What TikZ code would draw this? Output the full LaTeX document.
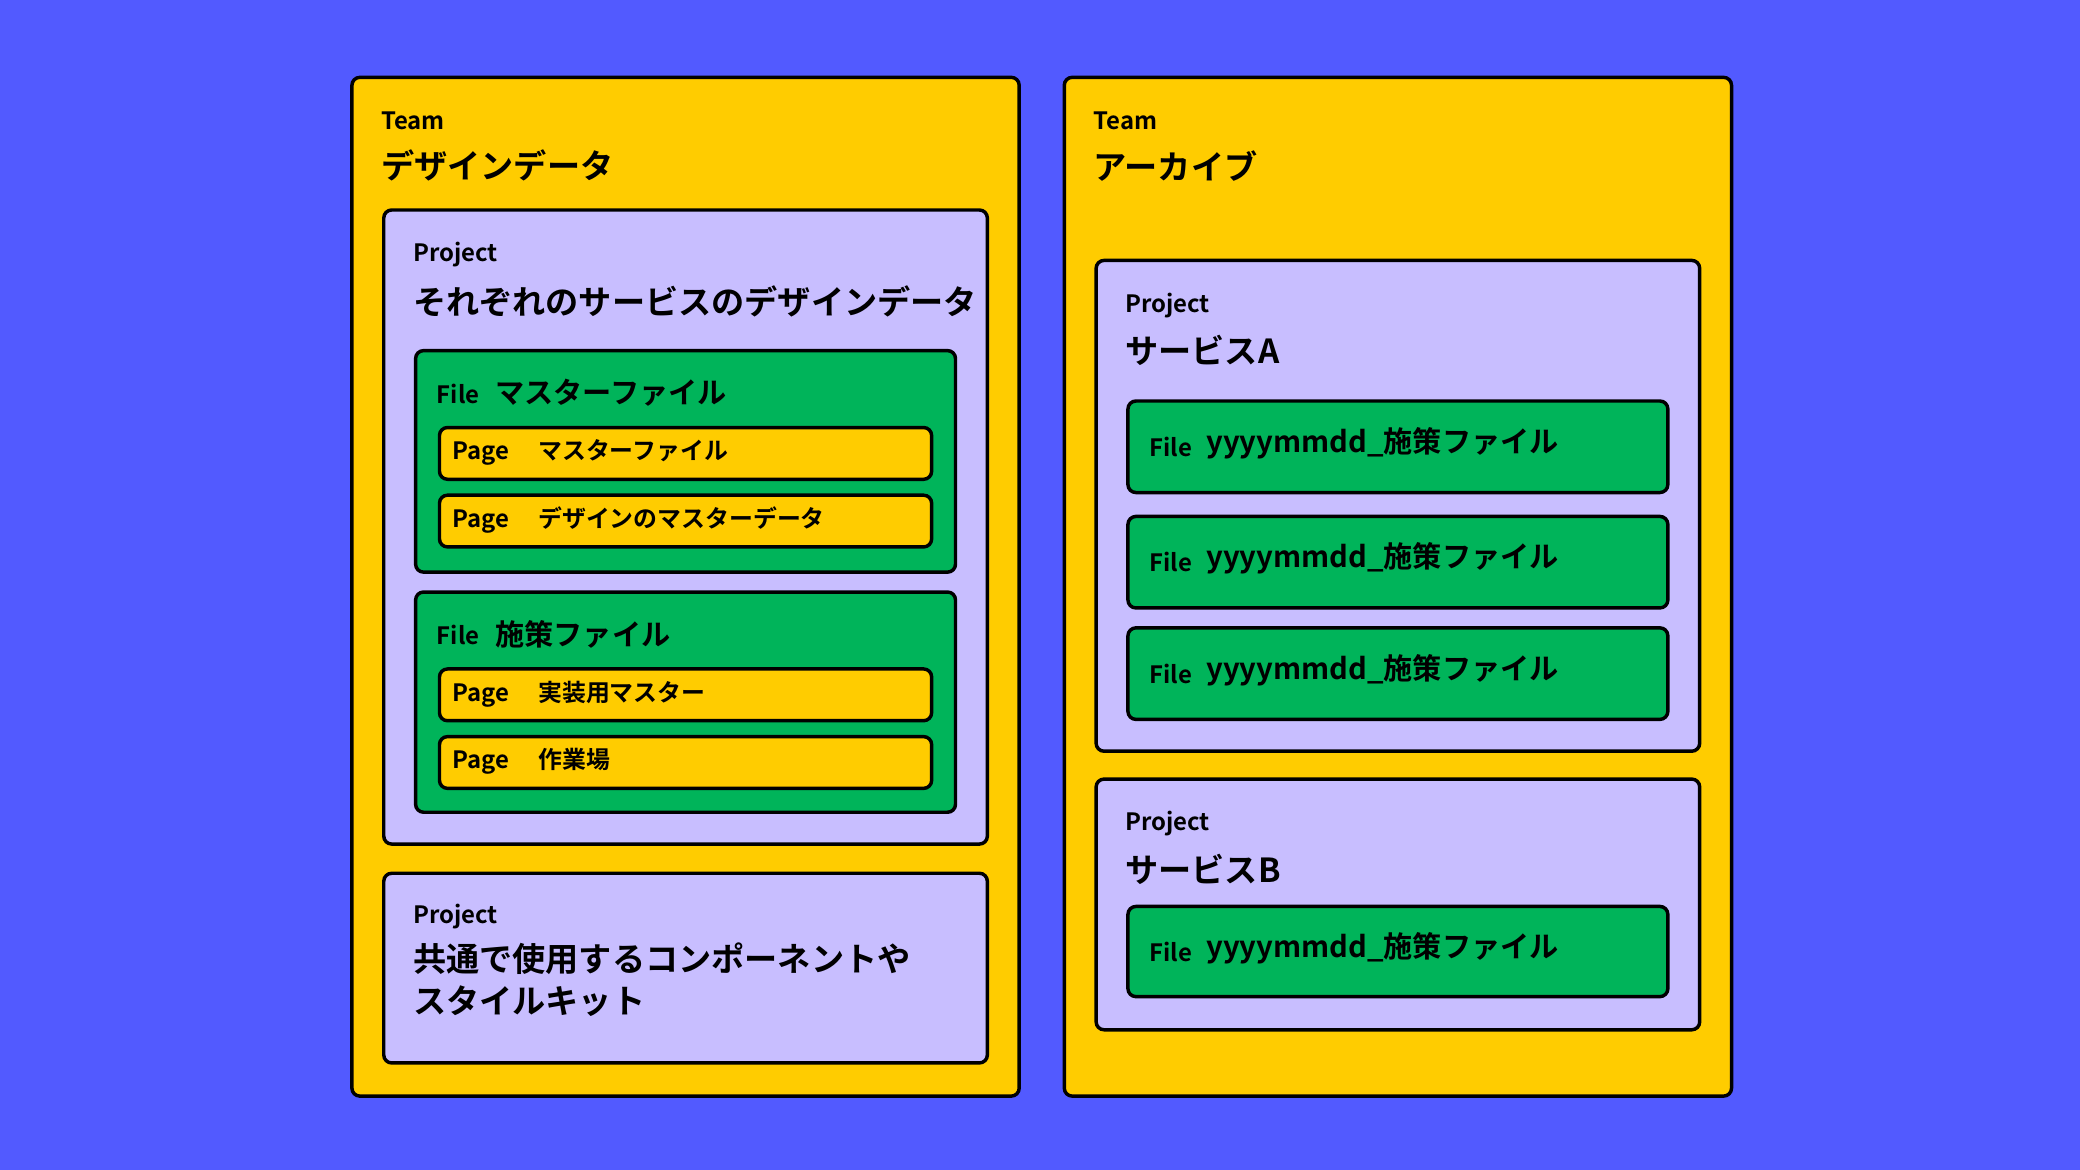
\documentclass[tikz,border=0pt]{standalone}
\usepackage{fontspec}
\setmainfont{Noto Sans CJK JP}[BoldFont={Noto Sans CJK JP Bold}]
\definecolor{bg}{RGB}{82,90,255}
\definecolor{yel}{RGB}{255,204,0}
\definecolor{lav}{RGB}{200,190,255}
\definecolor{grn}{RGB}{0,180,90}
\tikzset{
 box/.style={draw=black,line width=1.3pt,rounded corners=3pt,anchor=north west,inner sep=0},
 lab/.style={anchor=west,inner sep=0,font=\bfseries\fontsize{9}{10}\selectfont},
 ttl/.style={anchor=west,inner sep=0,font=\bfseries\fontsize{12.5}{14}\selectfont,align=left},
 ftl/.style={anchor=west,inner sep=0,font=\bfseries\fontsize{11}{12}\selectfont},
 pg/.style={anchor=west,inner sep=0,font=\bfseries\fontsize{9}{10}\selectfont},
}
\newcommand{\bx}[6]{\node[box,fill=#2,minimum width=#5*0.5pt,minimum height=#6*0.5pt] (#1) at (#3,#4) {};}
\begin{document}
\begin{tikzpicture}[x=0.5pt,y=-0.5pt]
\fill[bg] (0,0) rectangle (1568,882);
\useasboundingbox (0,0) rectangle (1568,882);
% left team
\bx{tl}{yel}{264}{57}{503}{768}
\node[lab] (tlt) at (287,91) {Team};
\node[ttl] (tln) at (287,125) {デザインデータ};
\bx{p1}{lav}{288}{157}{455}{478}
\node[lab] (p1t) at (311,192) {Project};
\node[ttl] (p1n) at (311,227) {それぞれのサービスのデザインデータ};
\bx{f1}{grn}{312}{263}{407}{167}
\node[lab] (f1t) at (329,297) {File};
\node[ftl] (f1n) at (373,296) {マスターファイル};
\bx{pa}{yel}{330}{321}{371}{39}
\node[pg] (pat) at (341,341) {Page\hspace{1.2em}マスターファイル};
\bx{pb}{yel}{330}{372}{371}{39}
\node[pg] (pbt) at (341,392) {Page\hspace{1.2em}デザインのマスターデータ};
\bx{f2}{grn}{312}{445}{407}{166}
\node[lab] (f2t) at (329,479) {File};
\node[ftl] (f2n) at (373,478) {施策ファイル};
\bx{pc}{yel}{330}{503}{371}{39}
\node[pg] (pct) at (341,523) {Page\hspace{1.2em}実装用マスター};
\bx{pd}{yel}{330}{554}{371}{39}
\node[pg] (pdt) at (341,574) {Page\hspace{1.2em}作業場};
\bx{p2}{lav}{288}{657}{455}{143}
\node[lab] (p2t) at (311,691) {Project};
\node[ttl,anchor=north west] (p2n) at (311,710) {共通で使用するコンポーネントや\\[2pt]スタイルキット};
% right team
\bx{tr}{yel}{801}{57}{503}{768}
\node[lab] (trt) at (824,91) {Team};
\node[ttl] (trn) at (824,125) {アーカイブ};
\bx{pA}{lav}{825}{195}{455}{370}
\node[lab] (pAt) at (848,230) {Project};
\node[ttl] (pAn) at (848,264) {サービスA};
\foreach \n/\y in {a/301,b/388,c/472}{
 \bx{F\n}{grn}{849}{\y}{407}{69}
 \node[lab] (F\n t) at (866,\y+36) {File};
 \node[ftl] (F\n n) at (909,\y+33) {yyyymmdd\_施策ファイル};
}
\bx{pB}{lav}{825}{586}{455}{189}
\node[lab] (pBt) at (848,621) {Project};
\node[ttl] (pBn) at (848,655) {サービスB};
\bx{Fd}{grn}{849}{682}{407}{68}
\node[lab] (Fdt) at (866,718) {File};
\node[ftl] (Fdn) at (909,715) {yyyymmdd\_施策ファイル};
\end{tikzpicture}
\end{document}
